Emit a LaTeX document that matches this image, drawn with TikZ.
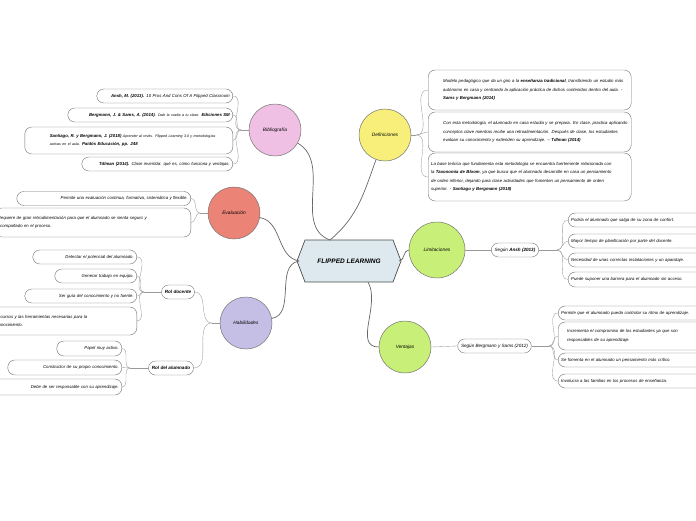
\documentclass[tikz,border=0pt]{standalone}
\usepackage{fontspec}
\setmainfont{Liberation Sans}
\usetikzlibrary{shapes.geometric}
\begin{document}
\begin{tikzpicture}[x=1pt,y=-1pt,
  every node/.style={font=\fontsize{4.3}{8.5}\selectfont\itshape},
  leaf/.style={draw=black!55,line width=0.4pt,rounded corners=7pt,fill=white,align=left,inner sep=3pt,anchor=east},
  topic/.style={circle,draw=black!55,line width=0.5pt,minimum size=52pt,font=\fontsize{4.8}{6}\selectfont\itshape},
  sub/.style={draw=black!55,line width=0.4pt,rounded corners=7pt,fill=white,minimum height=14pt,font=\fontsize{4.6}{6}\selectfont\itshape\bfseries},
  main/.style={line width=0.7pt,draw=black!60},
  thin/.style={line width=0.35pt,draw=black!40}]
\useasboundingbox (0,0) rectangle (696,520);
\definecolor{cen}{HTML}{DDE9EF}
% central
\draw[line width=0.7pt,draw=black!70,fill=cen] (297,261) -- (305,240) -- (393,240) -- (401,261) -- (393,282) -- (305,282) -- cycle;
\node[font=\fontsize{6.5}{8}\selectfont\itshape\bfseries] (center) at (349,261) {FLIPPED LEARNING};
\coordinate (cl) at (299,261); \coordinate (cr) at (399,261);
\coordinate (ct) at (330,240); \coordinate (cb) at (368,282);
% topics
\node[topic,fill={rgb,255:red,240;green,192;blue,228}] (bib) at (275,130) {Bibliografía};
\node[topic,fill={rgb,255:red,247;green,239;blue,122}] (def) at (385,135) {Definiciones};
\node[topic,fill={rgb,255:red,236;green,131;blue,119}] (eva) at (234,213) {Evaluación};
\node[topic,fill={rgb,255:red,198;green,191;blue,229}] (hab) at (246,323) {Habilidades};
\node[topic,fill={rgb,255:red,200;green,239;blue,120},minimum size=56pt] (lim) at (437,250) {Limitaciones};
\node[topic,fill={rgb,255:red,200;green,239;blue,120}] (ven) at (405,347) {Ventajas};
\draw[main] (ct) to[out=160,in=-30] (bib);
\draw[main] (ct) to[out=40,in=-110] (def);
\draw[main] (cl) to[out=170,in=-10] (eva);
\draw[main] (cl) to[out=190,in=10] (hab);
\draw[main] (cr) to[out=0,in=180] (lim);
\draw[main] (cb) to[out=-60,in=180] (ven);
% Bibliografia leaves
\node[leaf,text width=130pt,align=right,minimum height=14pt] (b1) at (233,96) {\textbf{Ansh, M. (2013).} 10 Pros And Cons Of A Flipped Classroom};
\node[leaf,text width=159pt,align=right,minimum height=14pt] (b2) at (233,115) {\textbf{Bergmann, J. \& Sams, A. (2014).} {\fontsize{3.6}{5}\selectfont Dale la vuelta a tu clase.} \textbf{Ediciones SM}};
\node[leaf,text width=202pt,minimum height=27pt] (b3) at (233,140.5) {\hspace*{22pt}\textbf{Santiago, R. y Bergmann, J. (2018)} {\fontsize{3.6}{5}\selectfont Aprender al revés. Flipped Learning 3.0 y metodologías}\\\hspace*{22pt}{\fontsize{3.6}{5}\selectfont activas en el aula.} \textbf{Paidós Educación, pp. 248}};
\node[leaf,text width=145pt,align=right,minimum height=14pt] (b4) at (233,164) {\textbf{Tdlman (2014).} Clase invertida: qué es, cómo funciona y ventajas.};
\coordinate (bh) at (241,130);
\draw[thin] (bib.west) -- (bh);
\foreach \n in {b1,b2,b3,b4} \draw[thin] (bh) to[out=180,in=0] (\n.east);
% Definiciones leaves
\node[leaf,anchor=west,text width=197pt,minimum height=40pt] (d1) at (428,90) {\hspace*{12pt}Modelo pedagógico que da un giro a la \textbf{enseñanza tradicional}, transfiriendo un estudio más\\\hspace*{12pt}autónomo en casa y centrando la aplicación práctica de dichos contenidos dentro del aula. -\\\hspace*{12pt}\textbf{Sams y Bergmann (2014)}};
\node[leaf,anchor=west,text width=197pt,minimum height=40pt] (d2) at (428,132) {\hspace*{12pt}Con esta metodología, el alumnado en casa estudia y se prepara. En clase, practica aplicando\\\hspace*{12pt}conceptos clave mientras recibe una retroalimentación. Después de clase, los estudiantes\\\hspace*{12pt}evalúan su conocimiento y extienden su aprendizaje. -- \textbf{Tdlman (2014)}};
\node[leaf,anchor=west,text width=197pt,minimum height=48pt] (d3) at (428,177) {La base teórica que fundamenta esta metodología se encuentra fuertemente relacionada con\\la \textbf{Taxonomía de Bloom}, ya que busca que el alumnado desarrolle en casa un pensamiento\\de orden inferior, dejando para clase actividades que fomenten un pensamiento de orden\\superior. - \textbf{Santiago y Bergmann (2018)}};
\coordinate (dh) at (416,135);
\draw[thin] (def.east) -- (dh);
\foreach \n in {d1,d2,d3} \draw[thin] (dh) to[out=0,in=180] (\n.west);
% Evaluacion leaves
\node[leaf,text width=168pt,align=right,minimum height=14pt] (e1) at (191,198.5) {Permite una evaluación continua, formativa, sistemática y flexible.};
\node[leaf,text width=190pt,minimum height=29pt] (e2) at (191,222.5) {Requiere de gran retroalimentación para que el alumnado se sienta seguro y\\acompañado en el proceso.};
\coordinate (eh) at (200,213);
\draw[thin] (eva.west) -- (eh);
\foreach \n in {e1,e2} \draw[thin] (eh) to[out=180,in=0] (\n.east);
% Habilidades
\node[sub] (rd) at (178,292) {Rol docente};
\node[sub] (ra) at (171,368) {Rol del alumnado};
\coordinate (hh) at (212,323);
\draw[thin] (hab.west) -- (hh);
\foreach \n in {rd,ra} \draw[thin] (hh) to[out=180,in=0] (\n.east);
\node[leaf,text width=98pt,align=right,minimum height=14pt] (r1) at (137,257) {Detectar el potencial del alumnado.};
\node[leaf,text width=76pt,align=right,minimum height=14pt] (r2) at (137,276) {Generar trabajo en equipo.};
\node[leaf,text width=106pt,align=right,minimum height=14pt] (r3) at (137,296) {Ser guía del conocimiento y no fuente.};
\node[leaf,text width=170pt,minimum height=28pt] (r4) at (137,321) {Proporcionar los recursos y las herramientas necesarias para la\\construcción del conocimiento.};
\coordinate (rdh) at (144,292);
\draw[thin] (rd.west) -- (rdh);
\foreach \n in {r1,r2,r3,r4} \draw[thin] (rdh) to[out=180,in=0] (\n.east);
\node[leaf,text width=59pt,align=right,minimum height=15pt] (a1) at (122,348.5) {Papel muy activo.};
\node[leaf,text width=108pt,align=right,minimum height=15pt] (a2) at (122,367.5) {Constructor de su propio conocimiento.};
\node[leaf,text width=150pt,align=right,minimum height=16pt] (a3) at (122,387) {Debe de ser responsable con su aprendizaje.};
\coordinate (rah) at (130,368);
\draw[thin] (ra.west) -- (rah);
\foreach \n in {a1,a2,a3} \draw[thin] (rah) to[out=180,in=0] (\n.east);
% Limitaciones
\node[sub,font=\fontsize{4.6}{6}\selectfont\itshape] (sa) at (515,250) {Según \textbf{Ansh (2013)}};
\draw[thin] (lim.east) -- (sa.west);
\coordinate (lh) at (557,250);
\draw[thin] (sa.east) -- (lh);
\node[leaf,anchor=west,text width=170pt,minimum height=14pt] (l1) at (568,220) {Podría el alumnado que salga de su zona de confort.};
\node[leaf,anchor=west,text width=170pt,minimum height=14pt] (l2) at (568,241) {Mayor tiempo de planificación por parte del docente.};
\node[leaf,anchor=west,text width=170pt,minimum height=14pt] (l3) at (568,260) {Necesidad de unas correctas instalaciones y un aparataje.};
\node[leaf,anchor=west,text width=170pt,minimum height=15pt] (l4) at (568,279.5) {Puede suponer una barrera para el alumnado sin acceso.};
\foreach \n in {l1,l2,l3,l4} \draw[thin] (lh) to[out=0,in=180] (\n.west);
% Ventajas
\node[sub,font=\fontsize{4.6}{6}\selectfont\itshape] (sv) at (494.5,346) {Según Bergmann y Sams (2012)};
\draw[thin] (ven.east) -- (sv.west);
\coordinate (vh) at (549,346);
\draw[thin] (sv.east) -- (vh);
\node[leaf,anchor=west,text width=170pt,minimum height=14pt] (v1) at (558,313) {Permite que el alumnado pueda controlar su ritmo de aprendizaje.};
\node[leaf,anchor=west,text width=170pt,minimum height=28pt] (v2) at (558,336) {\hspace*{6pt}Incrementa el compromiso de los estudiantes ya que son\\\hspace*{6pt}responsables de su aprendizaje.};
\node[leaf,anchor=west,text width=170pt,minimum height=14pt] (v3) at (558,360) {Se fomenta en el alumnado un pensamiento más crítico.};
\node[leaf,anchor=west,text width=170pt,minimum height=14pt] (v4) at (558,381) {Involucra a las familias en los procesos de enseñanza.};
\foreach \n in {v1,v2,v3,v4} \draw[thin] (vh) to[out=0,in=180] (\n.west);
\end{tikzpicture}
\end{document}
